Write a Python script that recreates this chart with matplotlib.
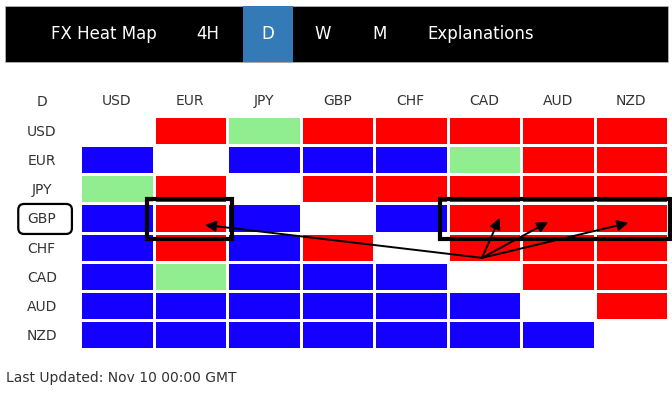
import numpy as np
import matplotlib
matplotlib.use("Agg")
import matplotlib.pyplot as plt
from matplotlib.colors import ListedColormap, BoundaryNorm
from matplotlib.patches import Rectangle, FancyBboxPatch

currencies = ["USD", "EUR", "JPY", "GBP", "CHF", "CAD", "AUD", "NZD"]
# one string per row (base currency), one char per column: R=red, B=blue, G=green, -=diagonal
signals = [
    "-RGRRRRR",
    "B-BBBGRR",
    "GR-RRRRR",
    "BRB-BRRR",
    "BRBR-RRR",
    "BGBBB-RR",
    "BBBBBB-R",
    "BBBBBBB-",
]
tabs = ["FX Heat Map", "4H", "D", "W", "M", "Explanations"]
tab_x = [104, 208, 268, 323, 380, 481]
active_tab = "D"
footer = "Last Updated: Nov 10 00:00 GMT"

code = {"-": 0, "B": 1, "G": 2, "R": 3}
grid = np.array([[code[c] for c in row] for row in signals])

cmap = ListedColormap(["white", "#1400ff", "#90ee90", "#ff0000"])
norm = BoundaryNorm([-0.5, 0.5, 1.5, 2.5, 3.5], cmap.N)

W, H = 672, 393
fig = plt.figure(figsize=(W / 100, H / 100), dpi=100)

# header bar
fig.patches.append(Rectangle((5 / W, 1 - 62 / H), 663 / W, 56 / H, transform=fig.transFigure,
                             facecolor="black", edgecolor="#bbbbbb", lw=0.5))
for t, x in zip(tabs, tab_x):
    if t == active_tab:
        fig.patches.append(Rectangle(((x - 25) / W, 1 - 62 / H), 50 / W, 56 / H,
                                     transform=fig.transFigure, facecolor="#337ab7", lw=0))
    fig.text(x / W, 1 - 34 / H, t, color="white", fontsize=12, ha="center", va="center")

# heat map
ax = fig.add_axes([80 / W, 1 - 349 / H, 588 / W, 233 / H])
n = len(currencies)
ax.pcolormesh(np.arange(n + 1), np.arange(n + 1), grid, cmap=cmap, norm=norm,
              edgecolors="white", linewidth=2)
ax.set_xlim(0, n)
ax.set_ylim(n, 0)
for s in ax.spines.values():
    s.set_visible(False)
ax.xaxis.tick_top()
ax.set_xticks(np.arange(n) + 0.5, currencies)
ax.set_yticks(np.arange(n) + 0.5, currencies)
ax.tick_params(length=0, labelsize=10, labelcolor="#333333")
ax.tick_params(axis="x", pad=6)
ax.tick_params(axis="y", pad=27.5)
for lab in ax.get_yticklabels():
    lab.set_ha("center")
ax.text(-0.52, -0.48, "D", fontsize=10, color="#333333", ha="center", va="center", clip_on=False)

# annotations
gbp = currencies.index("GBP")
ax.add_patch(FancyBboxPatch((-0.84, gbp + 0.02), 0.73, 1.03, boxstyle="round,pad=0,rounding_size=0.08",
                            mutation_aspect=2.5, fill=False, ec="black", lw=1.6, clip_on=False))
ax.add_patch(Rectangle((0.91, gbp - 0.15), 1.16, 1.37, fill=False, ec="black", lw=3, clip_on=False))
ax.add_patch(Rectangle((4.9, gbp - 0.15), 3.13, 1.37, fill=False, ec="black", lw=3, clip_on=False))
origin = (5.47, 4.87)
for tx, ty in [(1.70, 3.74), (5.71, 3.50), (6.37, 3.64), (7.46, 3.67)]:
    ax.annotate("", xy=(tx, ty), xytext=origin, annotation_clip=False,
                arrowprops=dict(arrowstyle="-|>", color="black", lw=1.4, mutation_scale=16,
                                shrinkA=0, shrinkB=0))

fig.text(6 / W, 1 - 378 / H, footer, fontsize=10, color="#333333", ha="left", va="center")

fig.savefig("out.png", dpi=100)
